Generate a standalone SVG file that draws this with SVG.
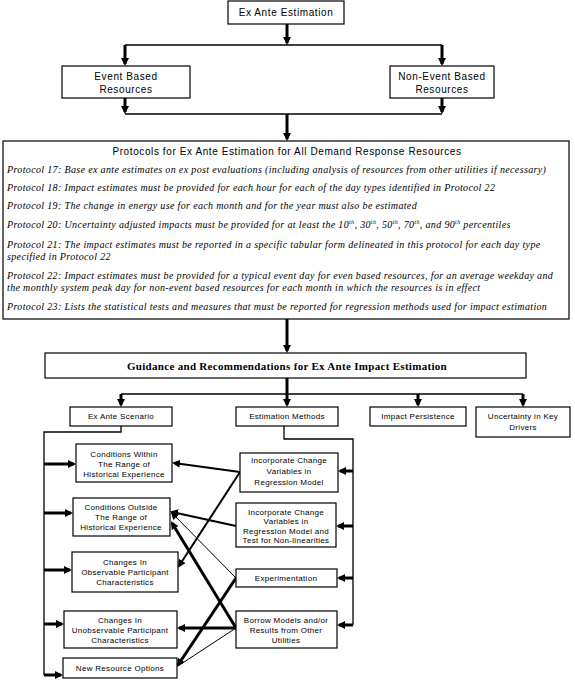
<svg xmlns="http://www.w3.org/2000/svg" width="575" height="681" viewBox="0 0 575 681">
<style>
.box{fill:#fff;stroke:#000;stroke-width:1.2}
.t{font-family:"Liberation Sans",Arial,sans-serif;font-size:10px;letter-spacing:0.6px;fill:#000;text-anchor:middle}
.s{font-family:"Liberation Sans",Arial,sans-serif;font-size:8px;letter-spacing:0.3px;fill:#000;text-anchor:middle}
.p{font-family:"Liberation Serif","Times New Roman",serif;font-style:italic;font-size:10px;letter-spacing:0.35px;fill:#000}
.g{font-family:"Liberation Serif","Times New Roman",serif;font-weight:bold;font-size:11px;letter-spacing:0.3px;fill:#000;text-anchor:middle}
.ln{fill:none;stroke:#000;stroke-width:1.3}
.th{fill:none;stroke:#000;stroke-width:3;marker-end:url(#ah)}
.md{fill:none;stroke:#000;stroke-width:2;marker-end:url(#ah)}
.tn{fill:none;stroke:#000;stroke-width:1;marker-end:url(#ah)}
.nt{fill:none;stroke:#000;stroke-width:1}
</style>
<defs>
<marker id="ah" markerUnits="userSpaceOnUse" markerWidth="8" markerHeight="8" viewBox="0 0 8 8" refX="6" refY="4" orient="auto"><path d="M0,0 L8,4 L0,8 z" fill="#000"/></marker>
</defs>

<g id="connectors">
<path class="th" d="M287,24 V43"/>
<path class="ln" d="M125,45 H442"/>
<path class="th" d="M125,45 V64"/>
<path class="th" d="M442,45 V64"/>
<path class="th" d="M125,98 V112"/>
<path class="th" d="M442,98 V112"/>
<path class="ln" d="M125,114 H442"/>
<path class="th" d="M287,114 V139"/>
<path class="th" d="M287,319 V351"/>
<path class="th" d="M287,378 V405"/>
<path class="ln" d="M121,394 H523"/>
<path class="th" d="M121,394 V405"/>
<path class="th" d="M418,394 V405"/>
<path class="th" d="M523,394 V405"/>
<path class="ln" d="M121,426 V432 H44 V675"/>
<path class="th" d="M44,464 H74"/>
<path class="th" d="M44,513 H71"/>
<path class="th" d="M44,570 H70"/>
<path class="th" d="M44,624 H62"/>
<path class="th" d="M44,675 H61"/>
<path class="ln" d="M284,426 V439 H353 V625"/>
<path class="th" d="M353,471 H340"/>
<path class="th" d="M353,526 H338"/>
<path class="th" d="M353,578 H339"/>
<path class="th" d="M353,625 H339"/>
<path class="md" d="M240,472 L174,463"/>
<path class="md" d="M240,472 L179,566"/>
<path class="md" d="M236,526 L172,512"/>
<path class="tn" d="M236,578 L172,513"/>
<path class="th" d="M236,578 L178,665"/>
<path class="th" d="M236,628 L172,523"/>
<path class="th" d="M236,628 L179,628"/>
<path class="nt" d="M236,628 L178,666"/>
</g>

<g id="ex-ante-estimation">
<rect class="box" x="228" y="1" width="116" height="23"/>
<text class="t" x="286" y="16">Ex Ante Estimation</text>
</g>
<g id="event-based">
<rect class="box" x="62" y="66" width="128" height="32"/>
<text class="t" x="126" y="80">Event Based</text>
<text class="t" x="126" y="93">Resources</text>
</g>
<g id="non-event-based">
<rect class="box" x="390" y="66" width="104" height="32"/>
<text class="t" x="442" y="80">Non-Event Based</text>
<text class="t" x="442" y="93">Resources</text>
</g>

<g id="protocols">
<rect class="box" x="3" y="141" width="566" height="178"/>
<text class="t" x="287" y="155">Protocols for Ex Ante Estimation for All Demand Response Resources</text>
<text class="p" x="7" y="173">Protocol 17:  Base ex ante estimates on ex post evaluations (including analysis of resources from other utilities if necessary)</text>
<text class="p" x="7" y="191">Protocol 18:  Impact estimates must be provided for each hour for each of the day types identified in Protocol 22</text>
<text class="p" x="7" y="209">Protocol 19:  The change in energy use for each month and for the year must also be estimated</text>
<text class="p" x="7" y="228">Protocol 20:  Uncertainty adjusted impacts must be provided for at least the 10<tspan font-size="6" dy="-4">th</tspan><tspan dy="4">, 30</tspan><tspan font-size="6" dy="-4">th</tspan><tspan dy="4">, 50</tspan><tspan font-size="6" dy="-4">th</tspan><tspan dy="4">, 70</tspan><tspan font-size="6" dy="-4">th</tspan><tspan dy="4">, and 90</tspan><tspan font-size="6" dy="-4">th</tspan><tspan dy="4"> percentiles</tspan></text>
<text class="p" x="7" y="248">Protocol 21:  The impact estimates must be reported in a specific tabular form delineated in this protocol for each day type</text>
<text class="p" x="7" y="260">specified in Protocol 22</text>
<text class="p" x="7" y="279">Protocol 22:  Impact estimates must be provided for a typical event day for even based resources, for an average weekday and</text>
<text class="p" x="7" y="291">the monthly system peak day for non-event based resources for each month in which the resources is in effect</text>
<text class="p" x="7" y="310">Protocol 23:  Lists the statistical tests and measures that must be reported for regression methods used for impact estimation</text>
</g>

<g id="guidance">
<rect class="box" x="45" y="353" width="481" height="25"/>
<text class="g" x="287" y="370">Guidance and Recommendations for Ex Ante Impact Estimation</text>
</g>

<g id="ex-ante-scenario">
<rect class="box" x="70" y="407" width="102" height="19"/>
<text class="s" x="121" y="419">Ex Ante Scenario</text>
</g>
<g id="estimation-methods">
<rect class="box" x="236" y="407" width="102" height="19"/>
<text class="s" x="287" y="419">Estimation Methods</text>
</g>
<g id="impact-persistence">
<rect class="box" x="370" y="407" width="96" height="19"/>
<text class="s" x="418" y="419">Impact Persistence</text>
</g>
<g id="uncertainty">
<rect class="box" x="476" y="407" width="94" height="30"/>
<text class="s" x="523" y="419">Uncertainty in Key</text>
<text class="s" x="523" y="430">Drivers</text>
</g>

<g id="conditions-within">
<rect class="box" x="76" y="444" width="96" height="38"/>
<text class="s" x="124" y="457">Conditions Within</text>
<text class="s" x="124" y="467">The Range of</text>
<text class="s" x="124" y="477">Historical Experience</text>
</g>
<g id="conditions-outside">
<rect class="box" x="73" y="498" width="97" height="38"/>
<text class="s" x="121" y="510">Conditions Outside</text>
<text class="s" x="121" y="520">The Range of</text>
<text class="s" x="121" y="530">Historical Experience</text>
</g>
<g id="observable">
<rect class="box" x="72" y="552" width="106" height="40"/>
<text class="s" x="125" y="565">Changes In</text>
<text class="s" x="125" y="575">Observable Participant</text>
<text class="s" x="125" y="585">Characteristics</text>
</g>
<g id="unobservable">
<rect class="box" x="64" y="611" width="113" height="37"/>
<text class="s" x="120" y="623">Changes In</text>
<text class="s" x="120" y="633">Unobservable Participant</text>
<text class="s" x="120" y="643">Characteristics</text>
</g>
<g id="new-resource">
<rect class="box" x="63" y="658" width="114" height="20"/>
<text class="s" x="120" y="671">New Resource Options</text>
</g>

<g id="incorporate-1">
<rect class="box" x="240" y="453" width="98" height="39"/>
<text class="s" x="289" y="463">Incorporate Change</text>
<text class="s" x="289" y="474">Variables in</text>
<text class="s" x="289" y="485">Regression Model</text>
</g>
<g id="incorporate-2">
<rect class="box" x="236" y="503" width="100" height="44"/>
<text class="s" x="286" y="515">Incorporate Change</text>
<text class="s" x="286" y="524">Variables in</text>
<text class="s" x="286" y="534">Regression Model and</text>
<text class="s" x="286" y="543">Test for Non-linearities</text>
</g>
<g id="experimentation">
<rect class="box" x="236" y="569" width="101" height="18"/>
<text class="s" x="286" y="581">Experimentation</text>
</g>
<g id="borrow-models">
<rect class="box" x="236" y="611" width="101" height="37"/>
<text class="s" x="286" y="623">Borrow Models and/or</text>
<text class="s" x="286" y="633">Results from Other</text>
<text class="s" x="286" y="643">Utilities</text>
</g>
</svg>
